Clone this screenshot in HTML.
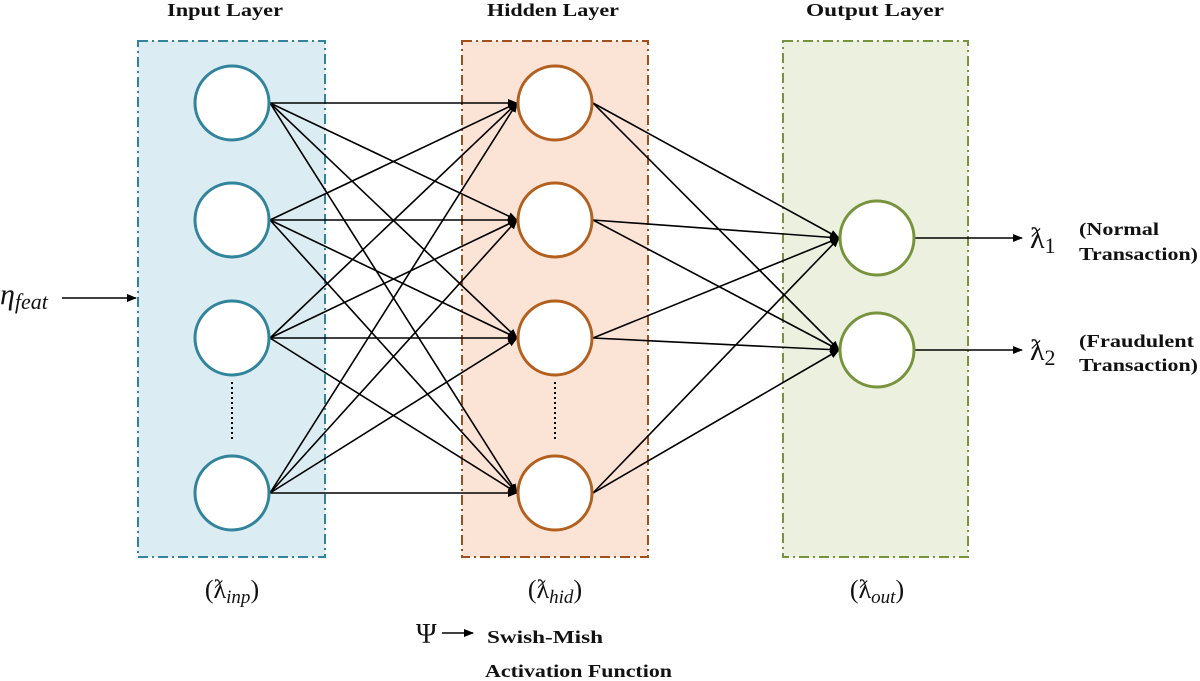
<!DOCTYPE html>
<html><head><meta charset="utf-8"><style>
body{margin:0;background:#fff;}
svg{display:block}
.t{font-family:"Liberation Serif",serif;font-weight:bold;font-size:18px;fill:#111}
.m{font-family:"Liberation Serif",serif;fill:#111}
.i{font-style:italic}
</style></head><body>
<svg width="1200" height="681" viewBox="0 0 1200 681" xmlns="http://www.w3.org/2000/svg">
<defs><marker id="a" markerWidth="10" markerHeight="8" refX="9" refY="4" orient="auto" markerUnits="userSpaceOnUse"><path d="M0,0 L10,4 L0,8 z" fill="#000"/></marker></defs>
<rect x="138" y="41" width="187" height="516" fill="#dbecf2" stroke="#31849b" stroke-width="2" stroke-dasharray="10,4,2,4"/>
<rect x="462" y="41" width="186" height="516" fill="#fbe4d5" stroke="#a0501a" stroke-width="2" stroke-dasharray="10,4,2,4"/>
<rect x="783" y="41" width="185" height="516" fill="#ebf1de" stroke="#77933c" stroke-width="2" stroke-dasharray="10,4,2,4"/>
<text class="t" x="167" y="16" textLength="116" lengthAdjust="spacingAndGlyphs">Input Layer</text>
<text class="t" x="487" y="16" textLength="132" lengthAdjust="spacingAndGlyphs">Hidden Layer</text>
<text class="t" x="806" y="16" textLength="138" lengthAdjust="spacingAndGlyphs">Output Layer</text>
<g stroke="#000" stroke-width="1.6" marker-end="url(#a)">
<line x1="270" y1="103" x2="517" y2="103"/><line x1="270" y1="103" x2="517" y2="220"/><line x1="270" y1="103" x2="517" y2="338"/><line x1="270" y1="103" x2="517" y2="493"/>
<line x1="270" y1="220" x2="517" y2="103"/><line x1="270" y1="220" x2="517" y2="220"/><line x1="270" y1="220" x2="517" y2="338"/><line x1="270" y1="220" x2="517" y2="493"/>
<line x1="270" y1="338" x2="517" y2="103"/><line x1="270" y1="338" x2="517" y2="220"/><line x1="270" y1="338" x2="517" y2="338"/><line x1="270" y1="338" x2="517" y2="493"/>
<line x1="270" y1="493" x2="517" y2="103"/><line x1="270" y1="493" x2="517" y2="220"/><line x1="270" y1="493" x2="517" y2="338"/><line x1="270" y1="493" x2="517" y2="493"/>
<line x1="593" y1="103" x2="839" y2="238"/><line x1="593" y1="103" x2="839" y2="350"/>
<line x1="593" y1="220" x2="839" y2="238"/><line x1="593" y1="220" x2="839" y2="350"/>
<line x1="593" y1="338" x2="839" y2="238"/><line x1="593" y1="338" x2="839" y2="350"/>
<line x1="593" y1="493" x2="839" y2="238"/><line x1="593" y1="493" x2="839" y2="350"/>
<line x1="915" y1="238" x2="1022" y2="238"/><line x1="915" y1="350" x2="1022" y2="350"/>
<line x1="62" y1="298" x2="136" y2="298"/>
<line x1="442" y1="633" x2="473" y2="633"/>
</g>
<g fill="#fff" stroke-width="3">
<g stroke="#31849b"><circle cx="232" cy="103" r="37"/><circle cx="232" cy="220" r="37"/><circle cx="232" cy="338" r="37"/><circle cx="232" cy="493" r="37"/></g>
<g stroke="#b35f1e"><circle cx="555" cy="103" r="37"/><circle cx="555" cy="220" r="37"/><circle cx="555" cy="338" r="37"/><circle cx="555" cy="493" r="37"/></g>
<g stroke="#77933c"><circle cx="877" cy="238" r="37"/><circle cx="877" cy="350" r="37"/></g>
</g>
<line x1="232" y1="382" x2="232" y2="440" stroke="#000" stroke-width="2" stroke-dasharray="2,3"/>
<line x1="555" y1="382" x2="555" y2="440" stroke="#000" stroke-width="2" stroke-dasharray="2,3"/>
<text class="m i" x="0" y="304" font-size="30">η<tspan font-size="22" dy="5">feat</tspan></text>
<text class="m" x="1030" y="248" font-size="30">ƛ<tspan font-size="22" dy="5">1</tspan></text>
<text class="m" x="1030" y="360" font-size="30">ƛ<tspan font-size="22" dy="5">2</tspan></text>
<text class="t" x="1079" y="235" textLength="80" lengthAdjust="spacingAndGlyphs">(Normal</text><text class="t" x="1079" y="260" textLength="119" lengthAdjust="spacingAndGlyphs">Transaction)</text>
<text class="t" x="1079" y="347" textLength="115" lengthAdjust="spacingAndGlyphs">(Fraudulent</text><text class="t" x="1079" y="371" textLength="119" lengthAdjust="spacingAndGlyphs">Transaction)</text>
<text class="m" x="232" y="598" font-size="26" text-anchor="middle">(ƛ<tspan class="i" font-size="19" dy="5">inp</tspan><tspan dy="-5">)</tspan></text>
<text class="m" x="555" y="598" font-size="26" text-anchor="middle">(ƛ<tspan class="i" font-size="19" dy="5">hid</tspan><tspan dy="-5">)</tspan></text>
<text class="m" x="877" y="598" font-size="26" text-anchor="middle">(ƛ<tspan class="i" font-size="19" dy="5">out</tspan><tspan dy="-5">)</tspan></text>
<text class="m" x="416" y="643" font-size="28">Ψ</text>
<text class="t" x="487" y="643" textLength="116" lengthAdjust="spacingAndGlyphs">Swish-Mish</text>
<text class="t" x="485" y="677" textLength="187" lengthAdjust="spacingAndGlyphs">Activation Function</text>
</svg>
</body></html>
